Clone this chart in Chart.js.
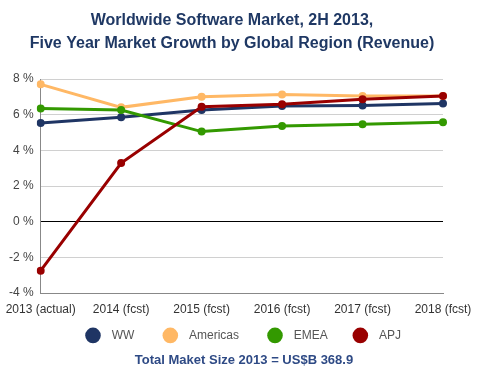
<!DOCTYPE html>
<html>
<head>
<meta charset="utf-8">
<script src="https://cdn.jsdelivr.net/npm/chart.js@4/dist/chart.umd.min.js"></script>
<style>
  body { margin: 0; background: #fff; }
  #wrap { width: 488px; height: 374px; }
</style>
</head>
<body>
<div id="wrap"><canvas id="chart" width="488" height="374"></canvas></div>
<script>
const years = ['2013 (actual)', '2014 (fcst)', '2015 (fcst)', '2016 (fcst)', '2017 (fcst)', '2018 (fcst)'];
const ww = [5.53, 5.85, 6.26, 6.48, 6.52, 6.63];
const americas = [7.70, 6.41, 7.00, 7.13, 7.05, 7.05];
const emea = [6.35, 6.26, 5.05, 5.36, 5.46, 5.57];
const apj = [-2.75, 3.29, 6.44, 6.59, 6.87, 7.05];
const titleLines = ['Worldwide Software Market, 2H 2013,', 'Five Year Market Growth by Global Region (Revenue)'];
const footer = 'Total Maket Size 2013 = US$B 368.9';

const font = 'Arial, "Liberation Sans", sans-serif';

// title drawn by hand so it can sit a little left of centre, like the original
const titlePlugin = {
    id: 'titleLines',
    afterDraw(chart) {
        const ctx = chart.ctx;
        ctx.save();
        ctx.fillStyle = '#1F3864';
        ctx.font = 'bold 16px ' + font;
        ctx.textAlign = 'center';
        ctx.textBaseline = 'middle';
        titleLines.forEach((line, i) => ctx.fillText(line, 232, 21 + i * 23));
        ctx.restore();
    }
};

function series(label, data, color, order) {
    return {
        label: label,
        data: data,
        borderColor: color,
        backgroundColor: color,
        borderWidth: 3,
        pointRadius: 4,
        pointBorderWidth: 0,
        pointHoverRadius: 4,
        tension: 0,
        order: order
    };
}

// extra spaces in legend text to spread the items like the original
const legendTail = [6, 6, 5, 0];

new Chart(document.getElementById('chart'), {
    type: 'line',
    data: {
        labels: years,
        datasets: [
            series('WW', ww, '#1F3564', 3),
            series('Americas', americas, '#FFB865', 2),
            series('EMEA', emea, '#339900', 1),
            series('APJ', apj, '#990000', 0)
        ]
    },
    options: {
        responsive: false,
        animation: false,
        layout: { padding: { top: 79, left: 2, right: 2, bottom: 2 } },
        plugins: {
            tooltip: { enabled: false },
            legend: {
                position: 'bottom',
                labels: {
                    usePointStyle: true,
                    pointStyle: 'circle',
                    boxHeight: 11,
                    padding: 10,
                    color: '#555',
                    font: { size: 12, family: font },
                    sort: (a, b) => a.datasetIndex - b.datasetIndex,
                    generateLabels: (chart) => {
                        const items = Chart.defaults.plugins.legend.labels.generateLabels(chart);
                        items.forEach(it => {
                            it.text = '  ' + it.text + ' '.repeat(legendTail[it.datasetIndex]);
                            it.lineWidth = 0;
                        });
                        return items;
                    }
                }
            },
            subtitle: {
                display: true,
                position: 'bottom',
                text: footer,
                color: '#2E4A85',
                font: { size: 13, weight: 'bold', family: font },
                padding: { top: 1, bottom: 4 }
            }
        },
        scales: {
            x: {
                offset: false,
                grid: { display: false },
                border: { color: '#888' },
                ticks: { color: '#333', font: { size: 12, family: font }, maxRotation: 0, padding: 1 },
                afterFit: scale => {
                    scale.paddingRight = 45;
                    scale.height += 2;
                }
            },
            y: {
                min: -4,
                max: 8,
                ticks: {
                    stepSize: 2,
                    color: '#444',
                    padding: 7,
                    font: { size: 12, family: font },
                    callback: v => v + ' %'
                },
                grid: {
                    drawTicks: false,
                    color: ctx => ctx.tick && ctx.tick.value === 0 ? '#000' : '#d0d0d0'
                },
                border: { color: '#888' }
            }
        }
    },
    plugins: [titlePlugin]
});
</script>
</body>
</html>
